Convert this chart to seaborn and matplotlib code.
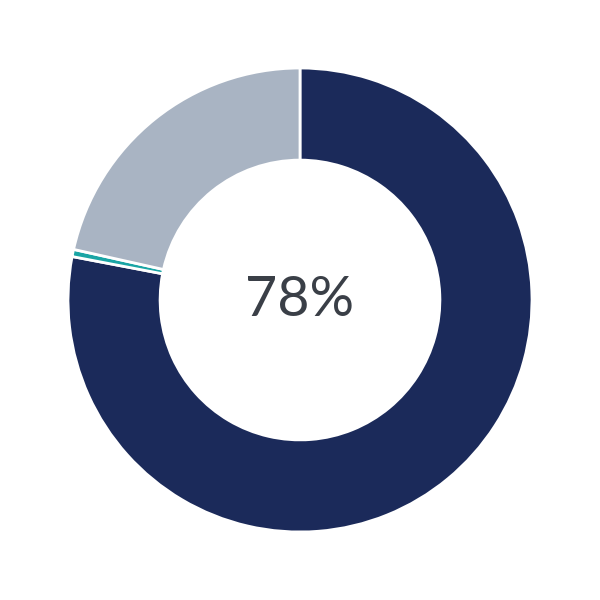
#!/usr/bin/env python3

import seaborn as sns
from matplotlib import pyplot as plt

labels = ['Main', 'Other', 'Rest']
values = [78.0, 0.5, 21.5]
colors = ['#1b2a5a', '#1aa5a5', '#a9b4c3']
center_text = '78%'


def main() -> None:
    sns.set_theme(style='white')
    plt.rcParams['font.family'] = ['Lato', 'DejaVu Sans']

    fig = plt.figure(figsize=(6, 6), dpi=100)
    ax = fig.add_axes([0, 0, 1, 1])
    # clockwise from 12 o'clock
    ax.pie(
        values,
        colors=colors,
        startangle=90,
        counterclock=False,
        radius=1.0,
        wedgeprops=dict(width=0.397, edgecolor='white', linewidth=2),
    )
    ax.text(0, 0, center_text, ha='center', va='center',
            fontsize=40, color='#3a3f47')
    lim = 300 / 232
    ax.set_xlim(-lim, lim)
    ax.set_ylim(-lim, lim)
    ax.set_aspect('equal')
    ax.axis('off')
    fig.savefig('out.png', dpi=100, facecolor='white')
    plt.close(fig)


if __name__ == '__main__':
    main()
